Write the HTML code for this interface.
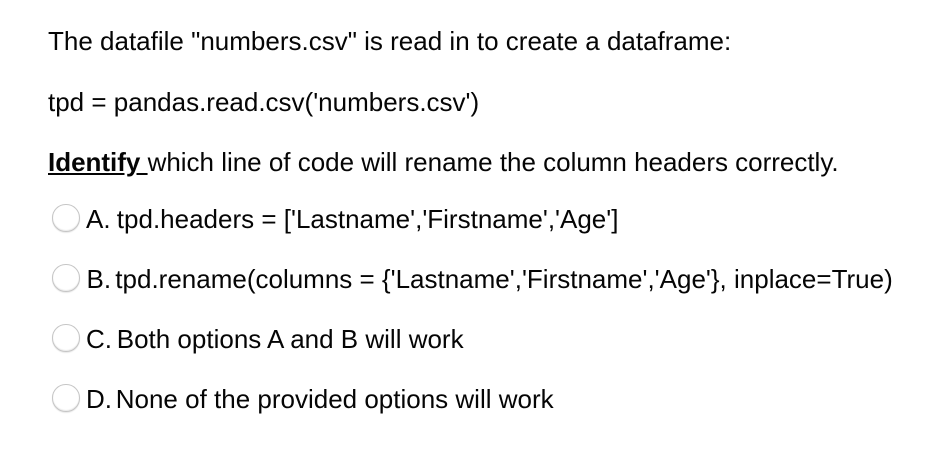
<!DOCTYPE html>
<html><head><meta charset="utf-8"><style>
html,body{margin:0;padding:0;background:#fff;width:940px;height:474px;overflow:hidden}
.t{position:absolute;left:48px;font:26px/30px "Liberation Sans",sans-serif;color:#050505;white-space:pre}
.t span{display:inline-block}
.r{position:absolute;left:52px;width:27.5px;height:27.5px;box-sizing:border-box;border-radius:50%;border:1.5px solid #c6c6c6;background:#fff;box-shadow:inset 0 -1px 1px #eaeaea,0 1px 1px #e8e8e8}
</style></head><body>
<div class="t" style="top:26px">The datafile "numbers.csv" is read in to create a dataframe:</div>
<div class="t" style="top:87px">tpd = pandas.read.csv('numbers.csv')</div>
<div class="t" style="top:147px;letter-spacing:-.012px"><u><b>Identify </b></u>which line of code will rename the column headers correctly.</div>
<div class="r" style="top:204px"></div><div class="t" style="top:204px;left:86px"><span style="margin-right:-1px">A.</span> tpd.headers = ['Lastname','Firstname','Age']</div>
<div class="r" style="top:264px"></div><div class="t" style="top:264px;left:86.5px"><span style="margin-right:-3px">B.</span> tpd.rename(columns = {'Lastname','Firstname','Age'}, inplace=True)</div>
<div class="r" style="top:324px"></div><div class="t" style="top:324px;left:86px"><span style="margin-right:-2.5px">C.</span> Both options A and B will work</div>
<div class="r" style="top:384px"></div><div class="t" style="top:384px;left:86px"><span style="margin-right:-3.5px">D.</span> None of the provided options will work</div>
</body></html>
